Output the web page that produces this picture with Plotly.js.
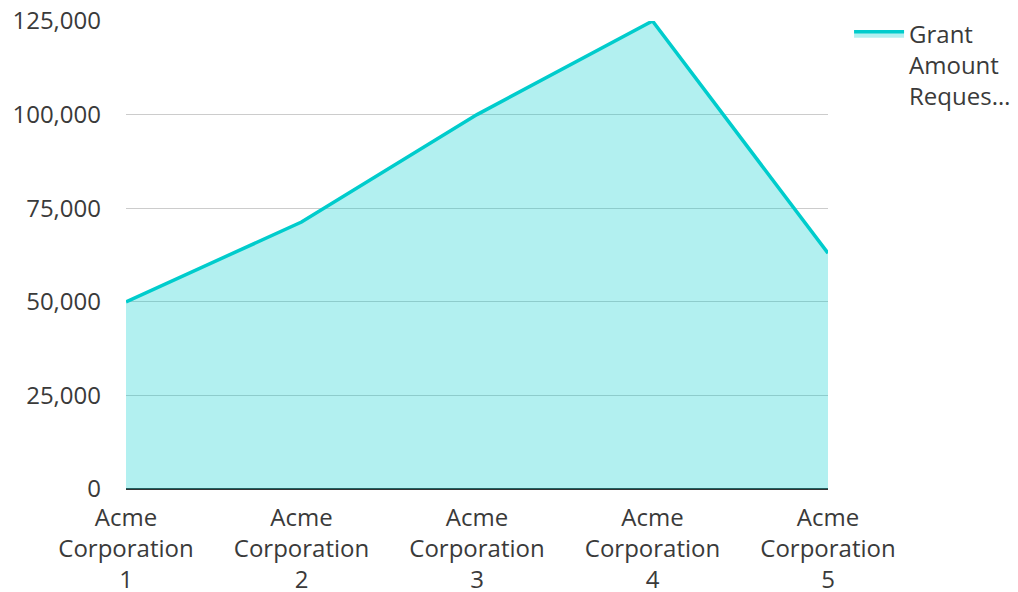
<!DOCTYPE html>
<html>
<head>
<meta charset="utf-8">
<script src="https://cdn.plot.ly/plotly-3.0.1.min.js"></script>
<style>html,body{margin:0;padding:0;background:#fff;}#chart{width:1018px;height:592px;}</style>
</head>
<body>
<div id="chart"></div>
<script>
const categories = ["Acme<br>Corporation<br>1", "Acme<br>Corporation<br>2", "Acme<br>Corporation<br>3", "Acme<br>Corporation<br>4", "Acme<br>Corporation<br>5"];
const grantAmounts = [50000, 71300, 100000, 125000, 63000];
const seriesName = "Grant<br>Amount<br>Reques…";
const yTicks = [0, 25000, 50000, 75000, 100000, 125000];

const trace = {
  x: categories,
  y: grantAmounts,
  type: 'scatter',
  mode: 'lines',
  name: seriesName,
  fill: 'tozeroy',
  fillcolor: 'rgba(0,204,204,0.3)',
  line: {color: '#00CCCC', width: 3.5}
};

const layout = {
  width: 1018,
  height: 592,
  margin: {l: 126, r: 190, t: 21, b: 103, autoexpand: false},
  paper_bgcolor: '#fff',
  plot_bgcolor: '#fff',
  font: {family: '"Open Sans", "Noto Sans", sans-serif', size: 24, color: '#3a3a3a'},
  showlegend: true,
  legend: {x: 1.03, y: 1.02, xanchor: 'left', yanchor: 'top', valign: 'top', itemwidth: 50, font: {size: 24}, tracegroupgap: 0},
  xaxis: {
    type: 'category',
    range: [0, 4],
    showgrid: false,
    showline: false,
    zeroline: false,
    ticks: '',
    ticklabelstandoff: 12
  },
  yaxis: {
    range: [0, 125000],
    tickvals: yTicks,
    tickformat: ',',
    showgrid: true,
    gridcolor: '#cccccc',
    gridwidth: 1,
    zeroline: true,
    zerolinecolor: '#333333',
    zerolinewidth: 2,
    showline: false,
    ticks: '',
    ticklabelstandoff: 24
  }
};

Plotly.newPlot('chart', [trace], layout, {displayModeBar: false, staticPlot: true});
</script>
</body>
</html>
